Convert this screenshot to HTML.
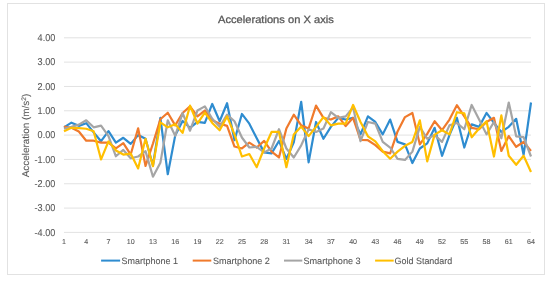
<!DOCTYPE html>
<html><head><meta charset="utf-8"><title>Accelerations on X axis</title>
<style>
html,body{margin:0;padding:0;background:#fff;}
svg{display:block;}
text{text-rendering:geometricPrecision;font-family:"Liberation Sans",Arial,sans-serif;fill:#595959;stroke:#595959;stroke-width:0.1px;}
.yl{font-size:9.9px;}
.xl{font-size:7.1px;stroke-width:0.1px;}
.lg{font-size:9.1px;}
.tt{font-size:10.5px;stroke-width:0.3px;}
.at{font-size:9.8px;}
</style></head><body>
<svg width="550" height="284" viewBox="0 0 550 284">
<rect x="0" y="0" width="550" height="284" fill="#fff"/>
<rect x="7.5" y="3.5" width="537" height="271" fill="#fff" stroke="#e2e2e2" stroke-width="1"/>
<line x1="64.0" y1="37.80" x2="531.0" y2="37.80" stroke="#e2e2e2" stroke-width="1"/><line x1="64.0" y1="62.12" x2="531.0" y2="62.12" stroke="#e2e2e2" stroke-width="1"/><line x1="64.0" y1="86.45" x2="531.0" y2="86.45" stroke="#e2e2e2" stroke-width="1"/><line x1="64.0" y1="110.78" x2="531.0" y2="110.78" stroke="#e2e2e2" stroke-width="1"/><line x1="64.0" y1="135.10" x2="531.0" y2="135.10" stroke="#e2e2e2" stroke-width="1"/><line x1="64.0" y1="159.43" x2="531.0" y2="159.43" stroke="#e2e2e2" stroke-width="1"/><line x1="64.0" y1="183.75" x2="531.0" y2="183.75" stroke="#e2e2e2" stroke-width="1"/><line x1="64.0" y1="208.08" x2="531.0" y2="208.08" stroke="#e2e2e2" stroke-width="1"/><line x1="64.0" y1="232.40" x2="531.0" y2="232.40" stroke="#e2e2e2" stroke-width="1"/>
<text x="55.3" y="41.00" text-anchor="end" class="yl" textLength="17.71" lengthAdjust="spacingAndGlyphs">4.00</text><text x="55.3" y="65.33" text-anchor="end" class="yl" textLength="17.71" lengthAdjust="spacingAndGlyphs">3.00</text><text x="55.3" y="89.65" text-anchor="end" class="yl" textLength="17.71" lengthAdjust="spacingAndGlyphs">2.00</text><text x="55.3" y="113.98" text-anchor="end" class="yl" textLength="17.71" lengthAdjust="spacingAndGlyphs">1.00</text><text x="55.3" y="138.30" text-anchor="end" class="yl" textLength="17.71" lengthAdjust="spacingAndGlyphs">0.00</text><text x="55.3" y="162.62" text-anchor="end" class="yl" textLength="20.74" lengthAdjust="spacingAndGlyphs">-1.00</text><text x="55.3" y="186.95" text-anchor="end" class="yl" textLength="20.74" lengthAdjust="spacingAndGlyphs">-2.00</text><text x="55.3" y="211.28" text-anchor="end" class="yl" textLength="20.74" lengthAdjust="spacingAndGlyphs">-3.00</text><text x="55.3" y="235.60" text-anchor="end" class="yl" textLength="20.74" lengthAdjust="spacingAndGlyphs">-4.00</text>
<text x="64.00" y="244.4" text-anchor="middle" class="xl">1</text><text x="86.24" y="244.4" text-anchor="middle" class="xl">4</text><text x="108.48" y="244.4" text-anchor="middle" class="xl">7</text><text x="130.71" y="244.4" text-anchor="middle" class="xl">10</text><text x="152.95" y="244.4" text-anchor="middle" class="xl">13</text><text x="175.19" y="244.4" text-anchor="middle" class="xl">16</text><text x="197.43" y="244.4" text-anchor="middle" class="xl">19</text><text x="219.67" y="244.4" text-anchor="middle" class="xl">22</text><text x="241.90" y="244.4" text-anchor="middle" class="xl">25</text><text x="264.14" y="244.4" text-anchor="middle" class="xl">28</text><text x="286.38" y="244.4" text-anchor="middle" class="xl">31</text><text x="308.62" y="244.4" text-anchor="middle" class="xl">34</text><text x="330.86" y="244.4" text-anchor="middle" class="xl">37</text><text x="353.10" y="244.4" text-anchor="middle" class="xl">40</text><text x="375.33" y="244.4" text-anchor="middle" class="xl">43</text><text x="397.57" y="244.4" text-anchor="middle" class="xl">46</text><text x="419.81" y="244.4" text-anchor="middle" class="xl">49</text><text x="442.05" y="244.4" text-anchor="middle" class="xl">52</text><text x="464.29" y="244.4" text-anchor="middle" class="xl">55</text><text x="486.52" y="244.4" text-anchor="middle" class="xl">58</text><text x="508.76" y="244.4" text-anchor="middle" class="xl">61</text><text x="531.00" y="244.4" text-anchor="middle" class="xl">64</text>
<text x="218" y="22.6" class="tt" textLength="115.8" lengthAdjust="spacingAndGlyphs">Accelerations on X axis</text>
<text transform="translate(29.3,177.3) rotate(-90)" class="at" textLength="83.6" lengthAdjust="spacingAndGlyphs">Acceleration (m/s<tspan dy="-3" font-size="6.5px">2</tspan><tspan dy="3">)</tspan></text>
<polyline points="64.00,127.32 71.41,122.69 78.83,125.86 86.24,123.18 93.65,132.42 101.06,141.18 108.48,131.21 115.89,142.64 123.30,137.78 130.71,143.86 138.13,135.10 145.54,138.75 152.95,165.51 160.37,117.83 167.78,174.26 175.19,135.59 182.60,120.99 190.02,127.80 197.43,121.96 204.84,122.94 212.25,103.96 219.67,121.23 227.08,103.23 234.49,140.21 241.90,113.94 249.32,123.67 256.73,138.26 264.14,152.37 271.56,153.34 278.97,140.94 286.38,158.94 293.79,142.40 301.21,101.77 308.62,162.34 316.03,121.96 323.44,138.75 330.86,126.83 338.27,117.83 345.68,119.53 353.10,117.83 360.51,134.37 367.92,116.37 375.33,121.96 382.75,134.37 390.16,119.53 397.57,141.91 404.98,144.34 412.40,163.07 419.81,148.48 427.22,143.37 434.63,127.80 442.05,155.78 449.46,135.10 456.87,117.83 464.29,147.51 471.70,124.40 479.11,126.83 486.52,112.96 493.94,122.94 501.35,131.94 508.76,126.83 516.17,118.80 523.59,154.80 531.00,102.50" fill="none" stroke="#2e8cd0" stroke-width="2.2" stroke-linejoin="round" stroke-linecap="butt"/>
<polyline points="64.00,126.59 71.41,127.80 78.83,131.45 86.24,140.69 93.65,140.69 101.06,142.64 108.48,142.64 115.89,148.48 123.30,143.13 130.71,154.56 138.13,128.29 145.54,165.99 152.95,143.61 160.37,119.29 167.78,112.72 175.19,125.37 182.60,112.96 190.02,106.40 197.43,116.37 204.84,110.53 212.25,120.26 219.67,123.67 227.08,125.86 234.49,146.53 241.90,148.48 249.32,142.64 256.73,147.51 264.14,140.94 271.56,151.64 278.97,157.48 286.38,128.53 293.79,114.67 301.21,125.37 308.62,128.53 316.03,105.67 323.44,117.83 330.86,119.53 338.27,116.37 345.68,126.10 353.10,117.83 360.51,139.97 367.92,140.21 375.33,145.07 382.75,151.64 390.16,153.34 397.57,131.45 404.98,117.10 412.40,112.96 419.81,144.34 427.22,133.88 434.63,121.23 442.05,130.23 449.46,119.53 456.87,105.18 464.29,116.37 471.70,127.80 479.11,129.26 486.52,121.96 493.94,117.83 501.35,150.91 508.76,136.07 516.17,146.78 523.59,141.91 531.00,150.91" fill="none" stroke="#f07a2c" stroke-width="2.2" stroke-linejoin="round" stroke-linecap="butt"/>
<polyline points="64.00,128.78 71.41,126.83 78.83,124.64 86.24,120.26 93.65,127.32 101.06,125.61 108.48,136.07 115.89,156.26 123.30,149.94 130.71,158.21 138.13,156.51 145.54,151.15 152.95,176.70 160.37,162.83 167.78,120.26 175.19,135.83 182.60,113.21 190.02,130.72 197.43,110.53 204.84,106.40 212.25,118.80 219.67,126.83 227.08,114.67 234.49,121.23 241.90,137.53 249.32,147.51 256.73,146.78 264.14,152.37 271.56,148.48 278.97,129.26 286.38,148.48 293.79,157.48 301.21,145.32 308.62,129.26 316.03,131.94 323.44,128.53 330.86,112.23 338.27,117.83 345.68,116.37 353.10,107.37 360.51,141.18 367.92,121.96 375.33,123.67 382.75,141.91 390.16,147.51 397.57,158.94 404.98,159.91 412.40,151.64 419.81,126.83 427.22,138.75 434.63,135.10 442.05,141.91 449.46,125.37 456.87,122.94 464.29,129.26 471.70,104.94 479.11,119.53 486.52,134.37 493.94,121.96 501.35,138.26 508.76,102.50 516.17,136.32 523.59,137.05 531.00,156.51" fill="none" stroke="#a5a5a5" stroke-width="2.2" stroke-linejoin="round" stroke-linecap="butt"/>
<polyline points="64.00,131.21 71.41,127.80 78.83,128.05 86.24,128.78 93.65,131.21 101.06,159.43 108.48,141.42 115.89,150.42 123.30,154.56 130.71,153.59 138.13,168.43 145.54,138.75 152.95,166.24 160.37,122.45 167.78,127.32 175.19,124.15 182.60,132.91 190.02,105.67 197.43,123.67 204.84,112.72 212.25,122.94 219.67,130.23 227.08,116.37 234.49,134.37 241.90,156.51 249.32,154.07 256.73,167.21 264.14,148.48 271.56,131.94 278.97,131.94 286.38,167.21 293.79,134.61 301.21,126.59 308.62,136.07 316.03,126.83 323.44,117.10 330.86,125.37 338.27,123.67 345.68,123.67 353.10,104.94 360.51,121.96 367.92,136.32 375.33,141.42 382.75,151.15 390.16,158.70 397.57,151.64 404.98,145.80 412.40,141.91 419.81,120.26 427.22,161.37 434.63,134.61 442.05,130.23 449.46,134.37 456.87,112.23 464.29,113.45 471.70,137.29 479.11,128.53 486.52,121.23 493.94,156.51 501.35,115.40 508.76,155.78 516.17,164.78 523.59,155.78 531.00,172.07" fill="none" stroke="#ffbf00" stroke-width="2.2" stroke-linejoin="round" stroke-linecap="butt"/>
<line x1="101.1" y1="260.6" x2="120.1" y2="260.6" stroke="#2e8cd0" stroke-width="2" stroke-linecap="butt"/><text x="121.6" y="263.6" class="lg" textLength="56.3" lengthAdjust="spacingAndGlyphs">Smartphone 1</text><line x1="192.7" y1="260.6" x2="211.3" y2="260.6" stroke="#f07a2c" stroke-width="2" stroke-linecap="butt"/><text x="212.9" y="263.6" class="lg" textLength="57.0" lengthAdjust="spacingAndGlyphs">Smartphone 2</text><line x1="284.0" y1="260.6" x2="302.3" y2="260.6" stroke="#a5a5a5" stroke-width="2" stroke-linecap="butt"/><text x="303.4" y="263.6" class="lg" textLength="57.3" lengthAdjust="spacingAndGlyphs">Smartphone 3</text><line x1="375.1" y1="260.6" x2="393.7" y2="260.6" stroke="#ffbf00" stroke-width="2" stroke-linecap="butt"/><text x="394.5" y="263.6" class="lg" textLength="57.8" lengthAdjust="spacingAndGlyphs">Gold Standard</text>
</svg>
</body></html>
